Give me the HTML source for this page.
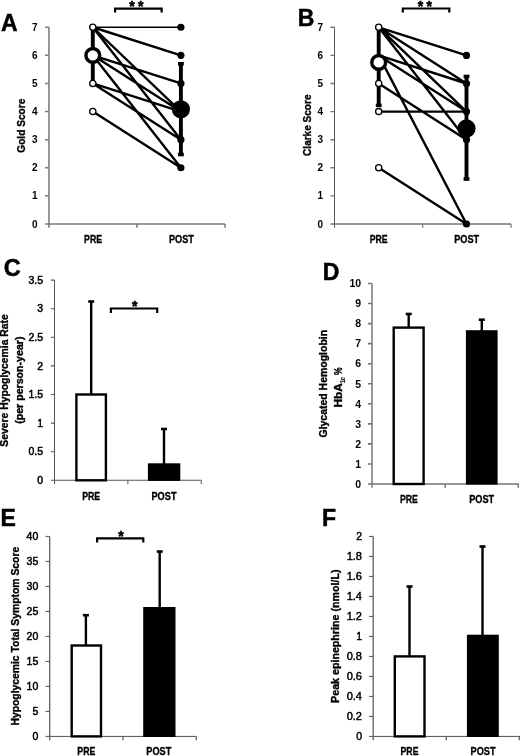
<!DOCTYPE html>
<html><head><meta charset="utf-8"><title>Figure</title>
<style>
html,body{margin:0;padding:0;background:#fff;}
svg{display:block;font-family:"Liberation Sans", sans-serif;fill:#000;filter:blur(0.45px);}
</style></head>
<body>
<svg width="520" height="756" viewBox="0 0 520 756">
<rect width="520" height="756" fill="#fff"/>
<g id="A">
<path d="M48.95 27.25V227.75M136.975 223.95V227.75M225 223.95V227.75" stroke="#808080" stroke-width="1.6" fill="none"/>
<path d="M44.95 223.95H225M44.95 195.85H48.95M44.95 167.75H48.95M44.95 139.65H48.95M44.95 111.55H48.95M44.95 83.45H48.95M44.95 55.35H48.95M44.95 27.25H48.95" stroke="#7c7c7c" stroke-width="1.5" fill="none"/>
<text x="37.6" y="227.53" font-size="10" font-weight="bold" text-anchor="end">0</text>
<text x="37.6" y="199.43" font-size="10" font-weight="bold" text-anchor="end">1</text>
<text x="37.6" y="171.33" font-size="10" font-weight="bold" text-anchor="end">2</text>
<text x="37.6" y="143.23" font-size="10" font-weight="bold" text-anchor="end">3</text>
<text x="37.6" y="115.13" font-size="10" font-weight="bold" text-anchor="end">4</text>
<text x="37.6" y="87.03" font-size="10" font-weight="bold" text-anchor="end">5</text>
<text x="37.6" y="58.93" font-size="10" font-weight="bold" text-anchor="end">6</text>
<text x="37.6" y="30.83" font-size="10" font-weight="bold" text-anchor="end">7</text>
<path d="M92.8 27.25V83.45M180.9 63.78V154.54" stroke="#000" stroke-width="3.9"/>
<rect x="89.89999999999999" y="25.45" width="5.8" height="3.6" fill="#000"/>
<rect x="89.89999999999999" y="81.65" width="5.8" height="3.6" fill="#000"/>
<rect x="178.0" y="61.980000000000004" width="5.8" height="3.6" fill="#000"/>
<rect x="178.0" y="152.73999999999998" width="5.8" height="3.6" fill="#000"/>
<path d="M92.8 27.25L180.9 27.25" stroke="#000" stroke-width="1.6" fill="none"/>
<path d="M92.8 27.25L180.9 55.35M92.8 27.25L180.9 111.55M92.8 27.25L180.9 139.65M92.8 55.35L180.9 83.45M92.8 55.35L180.9 111.55M92.8 55.35L180.9 167.75M92.8 83.45L180.9 111.55M92.8 83.45L180.9 139.65M92.8 111.55L180.9 167.75" stroke="#000" stroke-width="2.4" fill="none"/>
<circle cx="180.9" cy="27.25" r="3.6" fill="#000"/>
<circle cx="180.9" cy="55.35" r="3.6" fill="#000"/>
<circle cx="180.9" cy="83.45" r="3.6" fill="#000"/>
<circle cx="180.9" cy="139.65" r="3.6" fill="#000"/>
<circle cx="180.9" cy="167.75" r="3.6" fill="#000"/>
<circle cx="92.8" cy="27.25" r="3.1" fill="#fff" stroke="#000" stroke-width="1.3"/>
<circle cx="92.8" cy="83.45" r="3.1" fill="#fff" stroke="#000" stroke-width="1.3"/>
<circle cx="92.8" cy="111.55" r="3.1" fill="#fff" stroke="#000" stroke-width="1.3"/>
<circle cx="180.9" cy="109.3" r="9.1" fill="#000"/>
<circle cx="92.8" cy="55.35" r="6.9" fill="#fff" stroke="#000" stroke-width="3.4"/>
<text x="1" y="31" font-size="23" font-weight="bold" text-anchor="start" stroke="#000" stroke-width="0.5">A</text>
<text x="25" y="125.7" font-size="11.5" font-weight="bold" text-anchor="middle" textLength="54" lengthAdjust="spacingAndGlyphs" transform="rotate(-90 25 125.7)" stroke="#000" stroke-width="0.35">Gold Score</text>
<path d="M115.1 12.5V8.7H161.65V12.5" stroke="#000" stroke-width="2.2" fill="none"/>
<text x="137.95" y="11.3" font-size="14" font-weight="bold" text-anchor="middle" letter-spacing="3.15" stroke="#000" stroke-width="0.55">**</text>
<text x="93.1" y="243.2" font-size="10.3" font-weight="bold" text-anchor="middle" textLength="18" lengthAdjust="spacingAndGlyphs" stroke="#000" stroke-width="0.3">PRE</text>
<text x="181.4" y="243.2" font-size="10.3" font-weight="bold" text-anchor="middle" textLength="25" lengthAdjust="spacingAndGlyphs" stroke="#000" stroke-width="0.3">POST</text>
</g>
<g id="B">
<path d="M334.5 27.3V227.8M422.75 224.0V227.8M511 224.0V227.8" stroke="#555" stroke-width="1.0" fill="none"/>
<path d="M330.5 224.0H511M330.5 195.90H334.5M330.5 167.80H334.5M330.5 139.70H334.5M330.5 111.60H334.5M330.5 83.50H334.5M330.5 55.40H334.5M330.5 27.30H334.5" stroke="#747474" stroke-width="1.4" fill="none"/>
<text x="323" y="227.58" font-size="10" font-weight="bold" text-anchor="end">0</text>
<text x="323" y="199.48" font-size="10" font-weight="bold" text-anchor="end">1</text>
<text x="323" y="171.38" font-size="10" font-weight="bold" text-anchor="end">2</text>
<text x="323" y="143.28" font-size="10" font-weight="bold" text-anchor="end">3</text>
<text x="323" y="115.18" font-size="10" font-weight="bold" text-anchor="end">4</text>
<text x="323" y="87.08" font-size="10" font-weight="bold" text-anchor="end">5</text>
<text x="323" y="58.98" font-size="10" font-weight="bold" text-anchor="end">6</text>
<text x="323" y="30.88" font-size="10" font-weight="bold" text-anchor="end">7</text>
<path d="M378.7 27.3V105.42M466.5 76.47V179.04" stroke="#000" stroke-width="3.9"/>
<rect x="375.8" y="25.5" width="5.8" height="3.6" fill="#000"/>
<rect x="375.8" y="103.62" width="5.8" height="3.6" fill="#000"/>
<rect x="463.6" y="74.67" width="5.8" height="3.6" fill="#000"/>
<rect x="463.6" y="177.23999999999998" width="5.8" height="3.6" fill="#000"/>
<path d="M378.7 27.3L466.5 55.4M378.7 27.3L466.5 83.5M378.7 27.3L466.5 111.6M378.7 27.3L466.5 139.7M378.7 55.4L466.5 83.5M378.7 55.4L466.5 111.6M378.7 55.4L466.5 224.0M378.7 83.5L466.5 139.7M378.7 111.6L466.5 111.6M378.7 167.8L466.5 224.0" stroke="#000" stroke-width="2.4" fill="none"/>
<circle cx="466.5" cy="55.4" r="3.6" fill="#000"/>
<circle cx="466.5" cy="83.5" r="3.6" fill="#000"/>
<circle cx="466.5" cy="111.6" r="3.6" fill="#000"/>
<circle cx="466.5" cy="139.7" r="3.6" fill="#000"/>
<circle cx="466.5" cy="224.0" r="3.6" fill="#000"/>
<circle cx="378.7" cy="27.3" r="3.1" fill="#fff" stroke="#000" stroke-width="1.3"/>
<circle cx="378.7" cy="83.5" r="3.1" fill="#fff" stroke="#000" stroke-width="1.3"/>
<circle cx="378.7" cy="111.6" r="3.1" fill="#fff" stroke="#000" stroke-width="1.3"/>
<circle cx="378.7" cy="167.8" r="3.1" fill="#fff" stroke="#000" stroke-width="1.3"/>
<circle cx="466.5" cy="128.46" r="9.1" fill="#000"/>
<circle cx="378.7" cy="62.42" r="6.9" fill="#fff" stroke="#000" stroke-width="3.4"/>
<text x="297.8" y="25.5" font-size="23" font-weight="bold" text-anchor="start" stroke="#000" stroke-width="0.5">B</text>
<text x="310.9" y="125.2" font-size="11.5" font-weight="bold" text-anchor="middle" textLength="61.4" lengthAdjust="spacingAndGlyphs" transform="rotate(-90 310.9 125.2)" stroke="#000" stroke-width="0.35">Clarke Score</text>
<path d="M402.8 12.5V8.5H449.3V12.5" stroke="#000" stroke-width="2.2" fill="none"/>
<text x="426.4" y="10.7" font-size="14" font-weight="bold" text-anchor="middle" letter-spacing="3.15" stroke="#000" stroke-width="0.55">**</text>
<text x="378.7" y="243.2" font-size="10.3" font-weight="bold" text-anchor="middle" textLength="18" lengthAdjust="spacingAndGlyphs" stroke="#000" stroke-width="0.3">PRE</text>
<text x="466.7" y="243.2" font-size="10.3" font-weight="bold" text-anchor="middle" textLength="25" lengthAdjust="spacingAndGlyphs" stroke="#000" stroke-width="0.3">POST</text>
</g>
<g id="C">
<path d="M54.5 280.1V484.2M127.875 480.3V484.2M201.25 480.3V484.2" stroke="#555" stroke-width="1.0" fill="none"/>
<path d="M50.9 480.3H201.25M50.9 451.70H54.5M50.9 423.10H54.5M50.9 394.50H54.5M50.9 365.90H54.5M50.9 337.30H54.5M50.9 308.70H54.5M50.9 280.10H54.5" stroke="#585858" stroke-width="1.1" fill="none"/>
<text x="43" y="484.06" font-size="10.5" font-weight="normal" text-anchor="end" stroke="#000" stroke-width="0.5">0</text>
<text x="43" y="455.46" font-size="10.5" font-weight="normal" text-anchor="end" stroke="#000" stroke-width="0.5">0.5</text>
<text x="43" y="426.86" font-size="10.5" font-weight="normal" text-anchor="end" stroke="#000" stroke-width="0.5">1</text>
<text x="43" y="398.26" font-size="10.5" font-weight="normal" text-anchor="end" stroke="#000" stroke-width="0.5">1.5</text>
<text x="43" y="369.66" font-size="10.5" font-weight="normal" text-anchor="end" stroke="#000" stroke-width="0.5">2</text>
<text x="43" y="341.06" font-size="10.5" font-weight="normal" text-anchor="end" stroke="#000" stroke-width="0.5">2.5</text>
<text x="43" y="312.46" font-size="10.5" font-weight="normal" text-anchor="end" stroke="#000" stroke-width="0.5">3</text>
<text x="43" y="283.86" font-size="10.5" font-weight="normal" text-anchor="end" stroke="#000" stroke-width="0.5">3.5</text>
<path d="M91.2 301.5V394.5" stroke="#000" stroke-width="2.4"/>
<path d="M88.2 301.5H94.2" stroke="#000" stroke-width="2.6"/>
<rect x="76.40" y="394.50" width="29.50" height="85.80" fill="#fff" stroke="#000" stroke-width="2.4"/>
<path d="M164 429V464.28" stroke="#000" stroke-width="2.4"/>
<path d="M161.0 429H167.0" stroke="#000" stroke-width="2.6"/>
<rect x="147.9" y="463.3" width="32.40" height="17.60" fill="#000"/>
<path d="M110.9 312.9V308.5H157.2V312.9" stroke="#000" stroke-width="2.2" fill="none"/>
<text x="134.8" y="310.7" font-size="14" font-weight="bold" text-anchor="middle" stroke="#000" stroke-width="0.55">*</text>
<text x="3.8" y="276.4" font-size="23.5" font-weight="bold" text-anchor="start" stroke="#000" stroke-width="0.5">C</text>
<text x="8.3" y="380.5" font-size="10.5" font-weight="bold" text-anchor="middle" textLength="132.5" lengthAdjust="spacingAndGlyphs" transform="rotate(-90 8.3 380.5)" stroke="#000" stroke-width="0.35">Severe Hypoglycemia Rate</text>
<text x="23" y="380.2" font-size="10.5" font-weight="bold" text-anchor="middle" textLength="87.3" lengthAdjust="spacingAndGlyphs" transform="rotate(-90 23 380.2)" stroke="#000" stroke-width="0.35">(per person-year)</text>
<text x="91.2" y="499.6" font-size="10.3" font-weight="bold" text-anchor="middle" textLength="18" lengthAdjust="spacingAndGlyphs" stroke="#000" stroke-width="0.3">PRE</text>
<text x="164" y="499.6" font-size="10.3" font-weight="bold" text-anchor="middle" textLength="25" lengthAdjust="spacingAndGlyphs" stroke="#000" stroke-width="0.3">POST</text>
</g>
<g id="D">
<path d="M372.0 283.5V487.8M445.2 484.0V487.8M518.2 484.0V487.8" stroke="#808080" stroke-width="1.6" fill="none"/>
<path d="M368.0 484.0H518.9M368.0 463.95H372.0M368.0 443.90H372.0M368.0 423.85H372.0M368.0 403.80H372.0M368.0 383.75H372.0M368.0 363.70H372.0M368.0 343.65H372.0M368.0 323.60H372.0M368.0 303.55H372.0M368.0 283.50H372.0" stroke="#747474" stroke-width="1.6" fill="none"/>
<text x="361.2" y="487.76" font-size="10.5" font-weight="bold" text-anchor="end">0</text>
<text x="361.2" y="467.71" font-size="10.5" font-weight="bold" text-anchor="end">1</text>
<text x="361.2" y="447.66" font-size="10.5" font-weight="bold" text-anchor="end">2</text>
<text x="361.2" y="427.61" font-size="10.5" font-weight="bold" text-anchor="end">3</text>
<text x="361.2" y="407.56" font-size="10.5" font-weight="bold" text-anchor="end">4</text>
<text x="361.2" y="387.51" font-size="10.5" font-weight="bold" text-anchor="end">5</text>
<text x="361.2" y="367.46" font-size="10.5" font-weight="bold" text-anchor="end">6</text>
<text x="361.2" y="347.41" font-size="10.5" font-weight="bold" text-anchor="end">7</text>
<text x="361.2" y="327.36" font-size="10.5" font-weight="bold" text-anchor="end">8</text>
<text x="361.2" y="307.31" font-size="10.5" font-weight="bold" text-anchor="end">9</text>
<text x="361.2" y="287.26" font-size="10.5" font-weight="bold" text-anchor="end">10</text>
<path d="M408.7 314V327.61" stroke="#000" stroke-width="2.4"/>
<path d="M405.7 314H411.7" stroke="#000" stroke-width="2.6"/>
<rect x="393.70" y="327.60" width="29.90" height="156.40" fill="#fff" stroke="#000" stroke-width="2.4"/>
<path d="M481.8 319.7V331.62" stroke="#000" stroke-width="2.4"/>
<path d="M478.8 319.7H484.8" stroke="#000" stroke-width="2.6"/>
<rect x="465.9" y="330.2" width="31.70" height="154.40" fill="#000"/>
<text x="322.8" y="280" font-size="23" font-weight="bold" text-anchor="start" stroke="#000" stroke-width="0.5">D</text>
<text x="327.1" y="383.7" font-size="11" font-weight="bold" text-anchor="middle" textLength="107.6" lengthAdjust="spacingAndGlyphs" transform="rotate(-90 327.1 383.7)" stroke="#000" stroke-width="0.35">Glycated Hemoglobin</text>
<g transform="translate(341.7 406.7) rotate(-90)" font-weight="bold" stroke="#000" stroke-width="0.35"><text x="-0.8" y="0" font-size="11" textLength="24.2" lengthAdjust="spacingAndGlyphs">HbA</text><text x="24" y="3.6" font-size="6.5" stroke-width="0.2" textLength="5.6" lengthAdjust="spacingAndGlyphs">1<tspan font-style="italic">c</tspan></text><text x="31.6" y="0" font-size="11" textLength="7.6" lengthAdjust="spacingAndGlyphs">%</text></g>
<text x="408.9" y="503.4" font-size="10.3" font-weight="bold" text-anchor="middle" textLength="18" lengthAdjust="spacingAndGlyphs" stroke="#000" stroke-width="0.3">PRE</text>
<text x="481.7" y="503.4" font-size="10.3" font-weight="bold" text-anchor="middle" textLength="25" lengthAdjust="spacingAndGlyphs" stroke="#000" stroke-width="0.3">POST</text>
</g>
<g id="E">
<path d="M49.7 536.4V740.1999999999999M123.0 736.4V740.1999999999999M196.3 736.4V740.1999999999999" stroke="#626262" stroke-width="1.3" fill="none"/>
<path d="M45.5 736.4H196.3M45.5 711.40H49.7M45.5 686.40H49.7M45.5 661.40H49.7M45.5 636.40H49.7M45.5 611.40H49.7M45.5 586.40H49.7M45.5 561.40H49.7M45.5 536.40H49.7" stroke="#505050" stroke-width="1.0" fill="none"/>
<text x="38.3" y="740.16" font-size="10.5" font-weight="normal" text-anchor="end" stroke="#000" stroke-width="0.5">0</text>
<text x="38.3" y="715.16" font-size="10.5" font-weight="normal" text-anchor="end" stroke="#000" stroke-width="0.5">5</text>
<text x="38.3" y="690.16" font-size="10.5" font-weight="normal" text-anchor="end" stroke="#000" stroke-width="0.5">10</text>
<text x="38.3" y="665.16" font-size="10.5" font-weight="normal" text-anchor="end" stroke="#000" stroke-width="0.5">15</text>
<text x="38.3" y="640.16" font-size="10.5" font-weight="normal" text-anchor="end" stroke="#000" stroke-width="0.5">20</text>
<text x="38.3" y="615.16" font-size="10.5" font-weight="normal" text-anchor="end" stroke="#000" stroke-width="0.5">25</text>
<text x="38.3" y="590.16" font-size="10.5" font-weight="normal" text-anchor="end" stroke="#000" stroke-width="0.5">30</text>
<text x="38.3" y="565.16" font-size="10.5" font-weight="normal" text-anchor="end" stroke="#000" stroke-width="0.5">35</text>
<text x="38.3" y="540.16" font-size="10.5" font-weight="normal" text-anchor="end" stroke="#000" stroke-width="0.5">40</text>
<path d="M85.9 615.2V645.4" stroke="#000" stroke-width="2.4"/>
<path d="M82.9 615.2H88.9" stroke="#000" stroke-width="2.6"/>
<rect x="71.70" y="645.50" width="29.30" height="90.90" fill="#fff" stroke="#000" stroke-width="2.4"/>
<path d="M159.7 551.5V608.4" stroke="#000" stroke-width="2.4"/>
<path d="M156.7 551.5H162.7" stroke="#000" stroke-width="2.6"/>
<rect x="143.2" y="607" width="32.30" height="130.00" fill="#000"/>
<path d="M97.1 542.5V538.4H143.3V542.5" stroke="#000" stroke-width="2.2" fill="none"/>
<text x="121.1" y="540.7" font-size="14" font-weight="bold" text-anchor="middle" stroke="#000" stroke-width="0.55">*</text>
<text x="0.5" y="525.5" font-size="23" font-weight="bold" text-anchor="start" stroke="#000" stroke-width="0.5">E</text>
<text x="19.4" y="636.2" font-size="10.5" font-weight="bold" text-anchor="middle" textLength="178.8" lengthAdjust="spacingAndGlyphs" transform="rotate(-90 19.4 636.2)" stroke="#000" stroke-width="0.35">Hypoglycemic Total Symptom Score</text>
<text x="86.3" y="755.3" font-size="10.3" font-weight="bold" text-anchor="middle" textLength="18" lengthAdjust="spacingAndGlyphs" stroke="#000" stroke-width="0.3">PRE</text>
<text x="158.8" y="755.3" font-size="10.3" font-weight="bold" text-anchor="middle" textLength="25" lengthAdjust="spacingAndGlyphs" stroke="#000" stroke-width="0.3">POST</text>
</g>
<g id="F">
<path d="M373.2 536.4V740.3M446.3 736.4V740.3M519.3 736.4V740.3" stroke="#626262" stroke-width="1.3" fill="none"/>
<path d="M369.0 736.4H520.5M369.0 716.40H373.2M369.0 696.40H373.2M369.0 676.40H373.2M369.0 656.40H373.2M369.0 636.40H373.2M369.0 616.40H373.2M369.0 596.40H373.2M369.0 576.40H373.2M369.0 556.40H373.2M369.0 536.40H373.2" stroke="#505050" stroke-width="1.0" fill="none"/>
<text x="362" y="740.16" font-size="10.5" font-weight="normal" text-anchor="end" stroke="#000" stroke-width="0.45">0</text>
<text x="362" y="720.16" font-size="10.5" font-weight="normal" text-anchor="end" textLength="15.3" lengthAdjust="spacingAndGlyphs" stroke="#000" stroke-width="0.45">0.2</text>
<text x="362" y="700.16" font-size="10.5" font-weight="normal" text-anchor="end" textLength="15.3" lengthAdjust="spacingAndGlyphs" stroke="#000" stroke-width="0.45">0.4</text>
<text x="362" y="680.16" font-size="10.5" font-weight="normal" text-anchor="end" textLength="15.3" lengthAdjust="spacingAndGlyphs" stroke="#000" stroke-width="0.45">0.6</text>
<text x="362" y="660.16" font-size="10.5" font-weight="normal" text-anchor="end" textLength="15.3" lengthAdjust="spacingAndGlyphs" stroke="#000" stroke-width="0.45">0.8</text>
<text x="362" y="640.16" font-size="10.5" font-weight="normal" text-anchor="end" stroke="#000" stroke-width="0.45">1</text>
<text x="362" y="620.16" font-size="10.5" font-weight="normal" text-anchor="end" textLength="15.3" lengthAdjust="spacingAndGlyphs" stroke="#000" stroke-width="0.45">1.2</text>
<text x="362" y="600.16" font-size="10.5" font-weight="normal" text-anchor="end" textLength="15.3" lengthAdjust="spacingAndGlyphs" stroke="#000" stroke-width="0.45">1.4</text>
<text x="362" y="580.16" font-size="10.5" font-weight="normal" text-anchor="end" textLength="15.3" lengthAdjust="spacingAndGlyphs" stroke="#000" stroke-width="0.45">1.6</text>
<text x="362" y="560.16" font-size="10.5" font-weight="normal" text-anchor="end" textLength="15.3" lengthAdjust="spacingAndGlyphs" stroke="#000" stroke-width="0.45">1.8</text>
<text x="362" y="540.16" font-size="10.5" font-weight="normal" text-anchor="end" stroke="#000" stroke-width="0.45">2</text>
<path d="M409.5 586.5V656.4" stroke="#000" stroke-width="2.4"/>
<path d="M406.5 586.5H412.5" stroke="#000" stroke-width="2.6"/>
<rect x="394.80" y="656.40" width="29.70" height="80.00" fill="#fff" stroke="#000" stroke-width="2.4"/>
<path d="M482.5 546.5V636.4" stroke="#000" stroke-width="2.4"/>
<path d="M479.5 546.5H485.5" stroke="#000" stroke-width="2.6"/>
<rect x="466.9" y="634.7" width="31.90" height="102.30" fill="#000"/>
<text x="322" y="525.5" font-size="23" font-weight="bold" text-anchor="start" stroke="#000" stroke-width="0.5">F</text>
<text x="339.4" y="636.2" font-size="10.5" font-weight="bold" text-anchor="middle" textLength="133.4" lengthAdjust="spacingAndGlyphs" transform="rotate(-90 339.4 636.2)" stroke="#000" stroke-width="0.35">Peak epinephrine (nmol/L)</text>
<text x="409.5" y="755.3" font-size="10.3" font-weight="bold" text-anchor="middle" textLength="18" lengthAdjust="spacingAndGlyphs" stroke="#000" stroke-width="0.3">PRE</text>
<text x="483.1" y="755.3" font-size="10.3" font-weight="bold" text-anchor="middle" textLength="25" lengthAdjust="spacingAndGlyphs" stroke="#000" stroke-width="0.3">POST</text>
</g>
</svg>
</body></html>
